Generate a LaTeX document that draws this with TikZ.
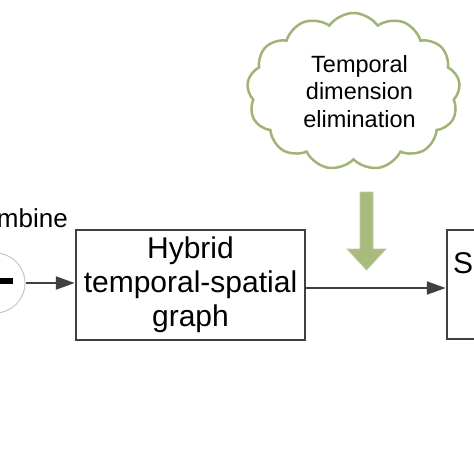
\documentclass[tikz,border=0pt]{standalone}
\usepackage{fontspec}
\setmainfont{Liberation Sans}
\usepackage{tikz}
\usetikzlibrary{positioning,shapes,arrows.meta,calc}
\definecolor{linegray}{RGB}{64,64,64}
\definecolor{cloudgreen}{RGB}{160,180,118}
\definecolor{arrowgreen}{RGB}{168,186,124}
\definecolor{arrowedge}{RGB}{190,204,160}

\begin{document}
\begin{tikzpicture}[x=1pt,y=-1pt,
  block/.style={draw=linegray, line width=2.5pt, fill=white, align=center,
    font=\fontsize{30}{34}\selectfont, inner sep=0pt},
  flow/.style={draw=linegray, line width=2.3pt, -{Triangle[length=19pt,width=13pt]}}]
\useasboundingbox (0,0) rectangle (474,474);
\clip (0,0) rectangle (474,474);

% Cloud with the remark on top
\node[cloud, cloud puffs=13, cloud puff arc=110, cloud ignores aspect,
  draw=cloudgreen, line width=2.5pt, fill=white,
  minimum width=213, minimum height=157, align=center, inner sep=0pt,
  font=\fontsize{23.5}{27.5}\selectfont] (cloud) at (353.5,91.5)
  {\hspace*{12pt}Temporal\\\hspace*{12pt}dimension\\\hspace*{12pt}elimination};

% Green block arrow under the cloud
\filldraw[fill=arrowgreen, draw=arrowedge, line width=0.8pt]
  (360,192) -- (373,192) -- (373,249) -- (386,249) -- (366.5,270)
  -- (347,249) -- (360,249) -- cycle;

% Combine circle (cut by the left border)
\node[circle, draw=gray!45, line width=1pt, fill=white, minimum size=60,
  inner sep=0pt] (combine) at (-5,283) {};
\fill[black] (-23,278) rectangle (13,283.5);
\node[anchor=base east, font=\fontsize{26}{30}\selectfont, inner sep=0pt]
  (combinelabel) at (68,227) {Combine};

% Boxes
\node[block, minimum width=229, minimum height=110] (hybrid) at (190.5,285)
  {Hybrid\\temporal-spatial\\graph};
\node[block, minimum width=120, minimum height=109] (sbox) at (507,284.5) {};
\node[anchor=base west, font=\fontsize{30}{34}\selectfont, inner sep=0pt]
  (stext) at (453,273) {S};

% Connectors
\draw[flow] (combine.east) -- (combine.east -| hybrid.west);
\draw[flow] ([yshift=-3pt]hybrid.east) -- ([yshift=-3.5pt]sbox.west);
\end{tikzpicture}
\end{document}
